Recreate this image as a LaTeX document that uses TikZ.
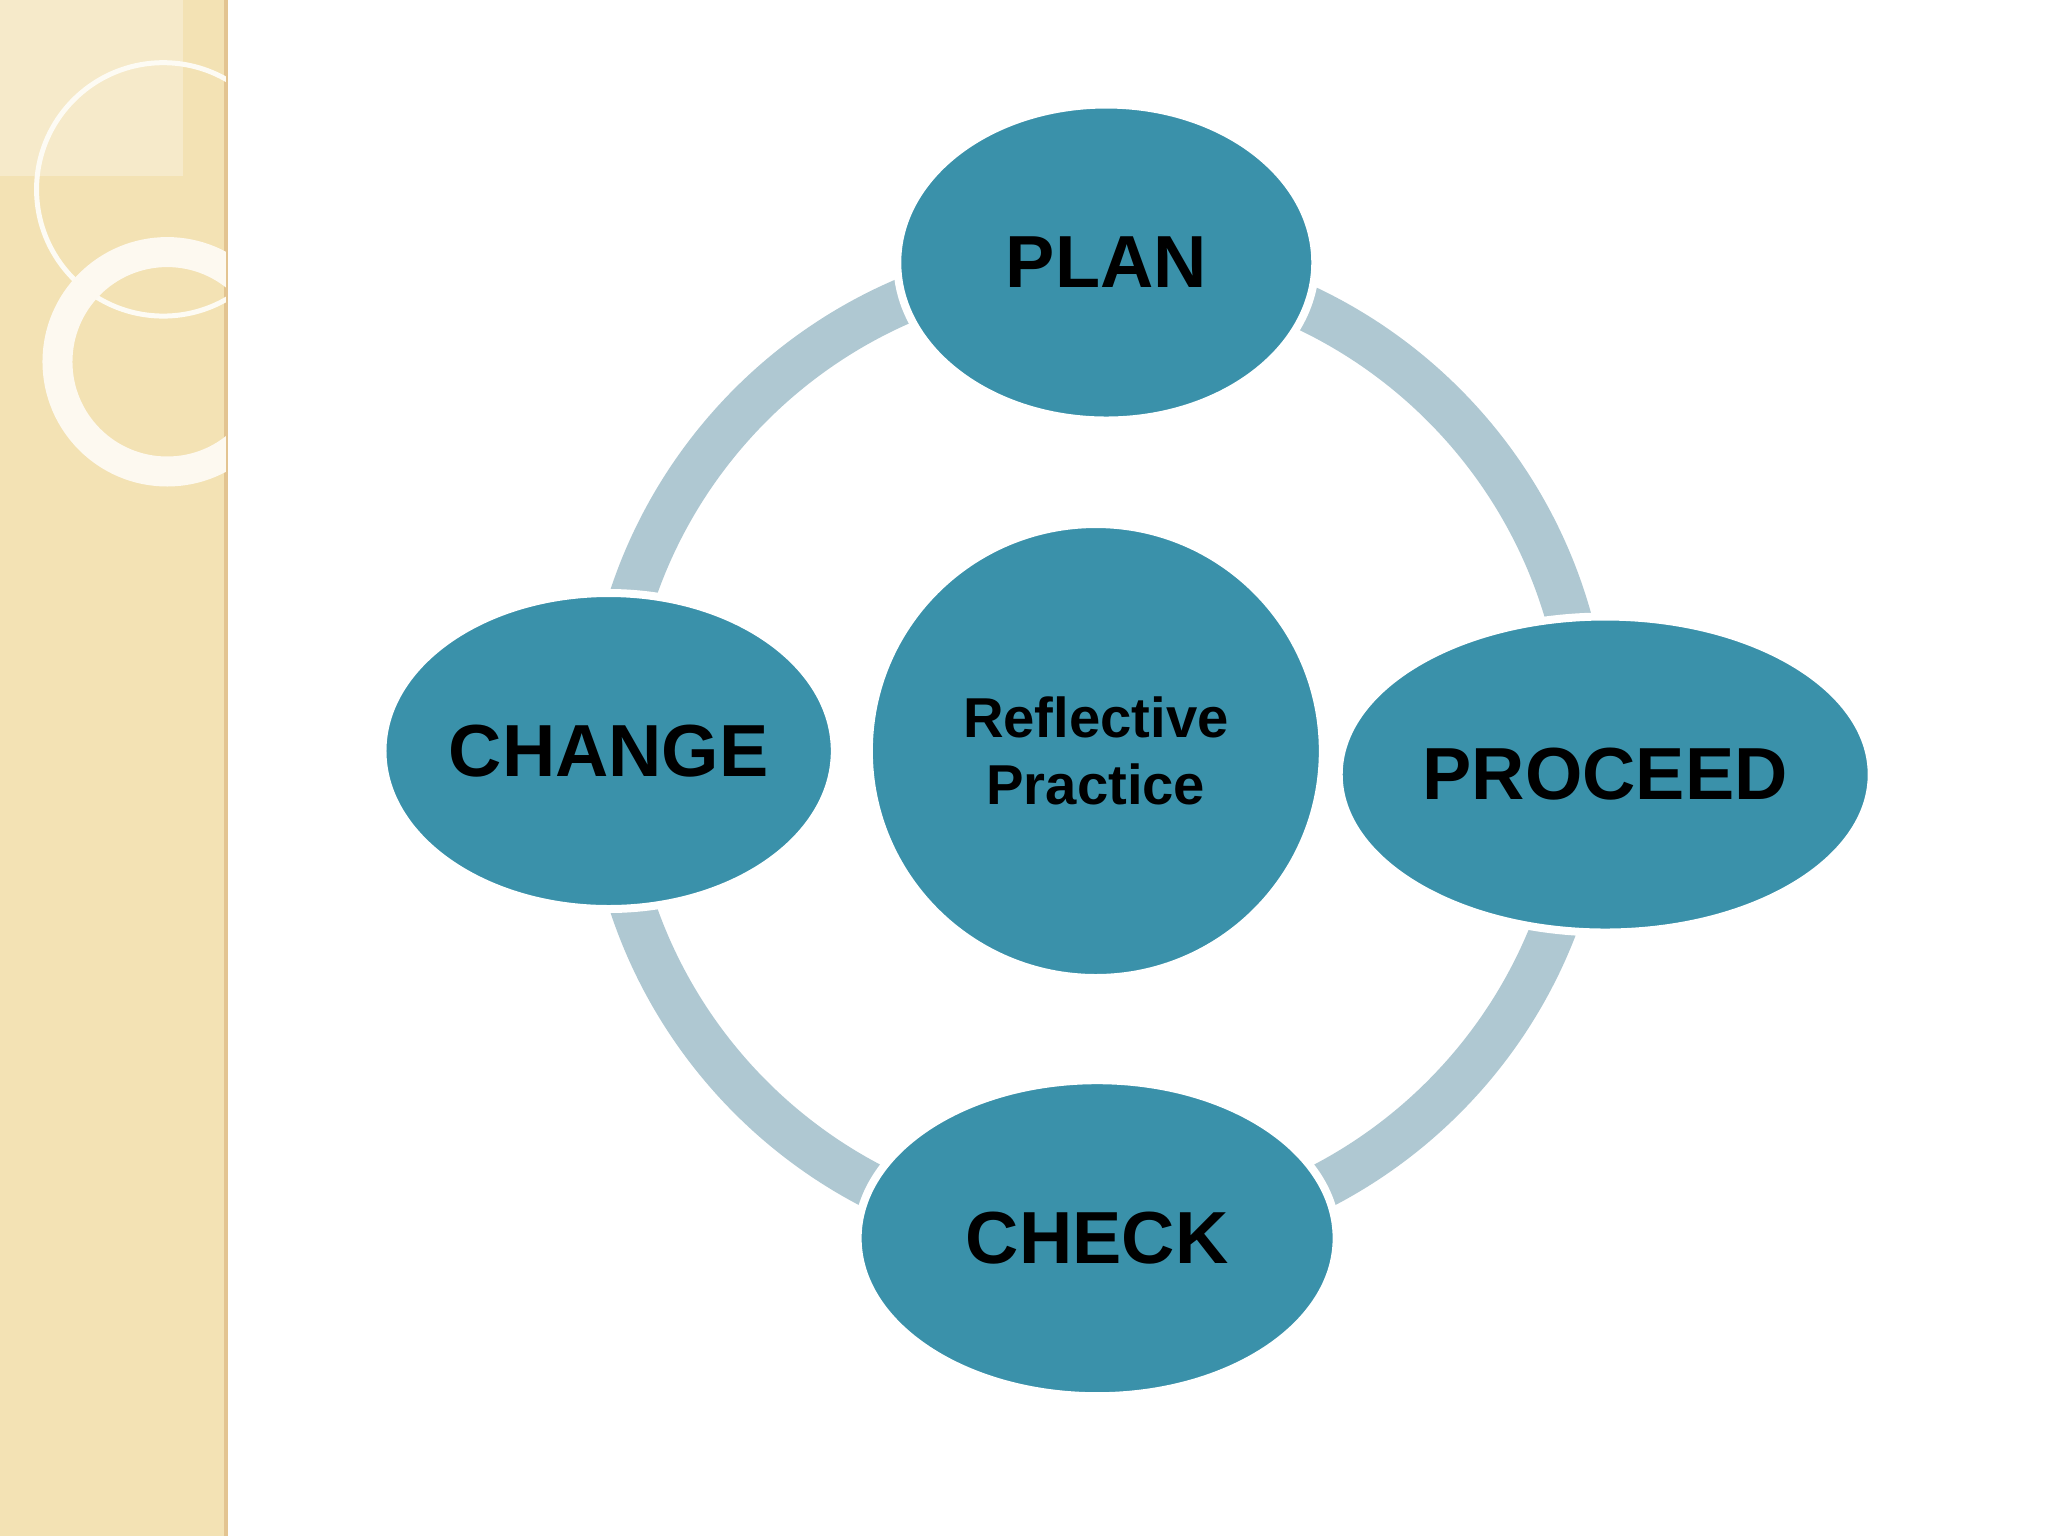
\documentclass[tikz,border=0pt]{standalone}
\usepackage{fontspec}
\setmainfont{Liberation Sans}
\usetikzlibrary{shapes.geometric}
\definecolor{teal1}{HTML}{3A91AA}
\definecolor{ringc}{HTML}{AFC8D2}
\definecolor{strip}{HTML}{F3E2B4}
\begin{document}
\begin{tikzpicture}[x=0.01306cm,y=-0.01306cm,
  bub/.style={ellipse,fill=teal1,draw=white,line width=0.08cm,inner sep=0pt,minimum height=3.16cm,font=\bfseries\fontsize{21}{24}\selectfont,text=black}]
\useasboundingbox (0,0) rectangle (1568,1176);
\fill[white] (0,0) rectangle (1568,1176);
\fill[strip] (0,0) rectangle (173,1176);
\draw[line width=0.04cm,color=strip!70!brown] (173,0) -- (173,1176);
\begin{scope}
\clip (0,0) rectangle (173,1176);
\fill[white,opacity=0.3] (0,0) rectangle (140,135);
\draw[white!85!strip,line width=0.05cm] (125,145) circle (97);
\draw[white!80!strip,line width=0.3cm] (128,277) circle (84);
\end{scope}
\draw[ringc,line width=0.457cm] (840,575) circle (375);
\node[bub,minimum width=4.18cm] (plan) at (847,201) {PLAN};
\node[bub,minimum width=4.39cm] (change) at (466,575) {CHANGE};
\node[bub,minimum width=5.33cm] (proceed) at (1229,593) {PROCEED};
\node[bub,minimum width=4.79cm] (check) at (840,948) {CHECK};
\node[bub,circle,minimum size=4.54cm,align=center,font=\bfseries\fontsize{16}{19}\selectfont] (rp) at (839,575) {Reflective\\Practice};
\end{tikzpicture}
\end{document}
